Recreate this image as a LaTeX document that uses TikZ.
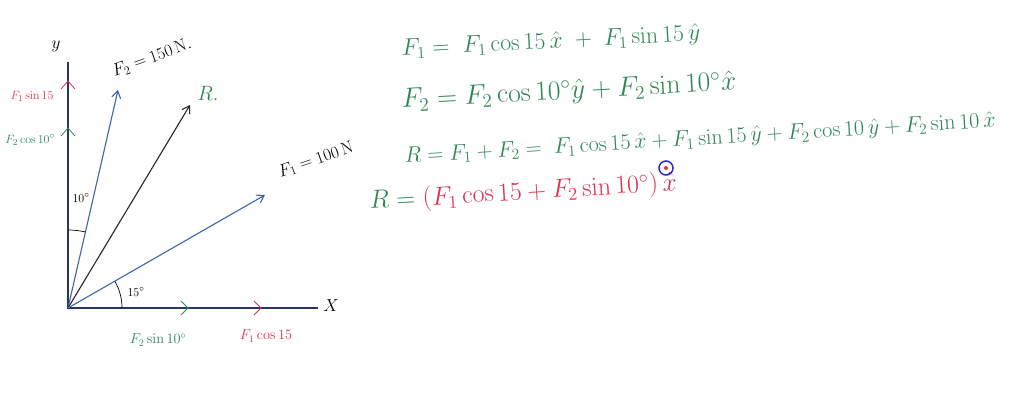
\documentclass[tikz,border=0pt]{standalone}
\usepackage{graphicx}
\usetikzlibrary{arrows.meta}
\definecolor{eqgreen}{RGB}{46,135,85}
\definecolor{eqred}{RGB}{220,50,80}
\definecolor{vecblue}{RGB}{60,100,175}
\definecolor{axisnavy}{RGB}{40,55,95}
\definecolor{penblue}{RGB}{40,40,220}
\begin{document}
\begin{tikzpicture}[x=1pt,y=1pt,
  axisline/.style={draw=axisnavy,line width=1.4pt},
  vecline/.style={draw=vecblue,line width=1.1pt,-{Straight Barb[length=7pt,width=9pt]}},
  rline/.style={draw=black!85,line width=1.1pt,-{Straight Barb[length=7pt,width=9pt]}},
  lbl/.style={inner sep=0pt,font=\fontsize{17}{20}\selectfont},
  eq/.style={inner sep=0pt,anchor=base west,font=\fontsize{17.28}{20}\selectfont},
  small/.style={inner sep=0pt,font=\fontsize{13}{15}\selectfont},
  comp/.style={inner sep=0pt,font=\fontsize{14.5}{17}\selectfont}]
\useasboundingbox (0,0) rectangle (1024,-410);
% axes
\coordinate (O) at (68,-308);
\coordinate (Ytop) at (68,-62);
\coordinate (Xend) at (318,-308);
\draw[axisline] (Ytop) -- (O) -- (Xend);
\node[lbl] (ylab) at (56,-46) {$y$};
\node[lbl] (xlab) at (331,-306) {$X$};
% vectors
\coordinate (F2tip) at (118,-90);
\coordinate (Rtip) at (190,-105);
\coordinate (F1tip) at (265,-195);
\draw[vecline] (O) -- (F2tip);
\draw[rline] (O) -- (Rtip);
\draw[vecline] (O) -- (F1tip);
% labels of vectors
\node[lbl,rotate=20] (F2lab) at (152,-58) {$F_2 = 150\,\mathrm{N}.$};
\node[lbl,text=eqgreen,font=\fontsize{20}{24}\selectfont] (Rlab) at (208,-93) {$R.$};
\node[lbl,rotate=19] (F1lab) at (316,-160) {$F_1 = 100\,\mathrm{N}$};
% angle arcs
\draw[black,line width=0.7pt] (68,-230) arc[start angle=90,end angle=77,radius=78];
\draw[black,line width=0.7pt] (122,-308) arc[start angle=0,end angle=29.5,radius=54];
\node[small] (a10) at (81,-198) {$10^{\circ}$};
\node[small] (a15) at (136,-292) {$15^{\circ}$};
% component chevrons on y axis
\draw[eqred,line width=0.8pt] (61,-89) -- (68,-81) -- (75,-89);
\draw[eqgreen,line width=0.8pt] (61,-136) -- (68,-128) -- (75,-136);
% component chevrons on x axis
\draw[eqgreen,line width=0.8pt] (181,-301) -- (188,-308) -- (181,-315);
\draw[eqred,line width=0.8pt] (254,-301) -- (261,-308) -- (254,-315);
% component labels
\node[small,text=eqred] (c1) at (32,-96) {$F_1\sin15$};
\node[small,text=eqgreen] (c2) at (30,-140) {$F_2\cos10^{\circ}$};
\node[comp,text=eqgreen] (c3) at (158,-340) {$F_2\sin10^{\circ}$};
\node[comp,text=eqred] (c4) at (266,-336) {$F_1\cos15$};
% equations
\node[eq,text=eqgreen,rotate=3] (e1) at (402,-56) {\scalebox{1.38}{$F_1 = \; F_1\cos15\,\hat{x} \;+\; F_1\sin15\,\hat{y}$}};
\node[eq,text=eqgreen,rotate=3.1] (e2) at (402,-108) {\scalebox{1.6}{$F_2 = F_2\cos10^{\circ}\hat{y} + F_2\sin10^{\circ}\hat{x}$}};
\node[eq,text=eqgreen,rotate=3.5] (e3) at (405,-163) {\scalebox{1.28}{$R = F_1 + F_2 = \; F_1\cos15\,\hat{x} + F_1\sin15\,\hat{y} + F_2\cos10\,\hat{y} + F_2\sin10\,\hat{x}$}};
\node[eq,text=eqgreen,rotate=3.5] (e4a) at (370,-209) {\scalebox{1.5}{$R =$}};
\node[eq,text=eqred,rotate=3.5] (e4b) at (e4a.base east) {\scalebox{1.5}{$\;\left(F_1\cos15 + F_2\sin10^{\circ}\right)\hat{x}$}};
% pen cursor
\node[draw=penblue,line width=1.5pt,circle,minimum size=14pt,inner sep=0pt] (cursor) at (666,-168) {};
\fill[eqred] (cursor.center) circle (2pt);
\end{tikzpicture}
\end{document}
